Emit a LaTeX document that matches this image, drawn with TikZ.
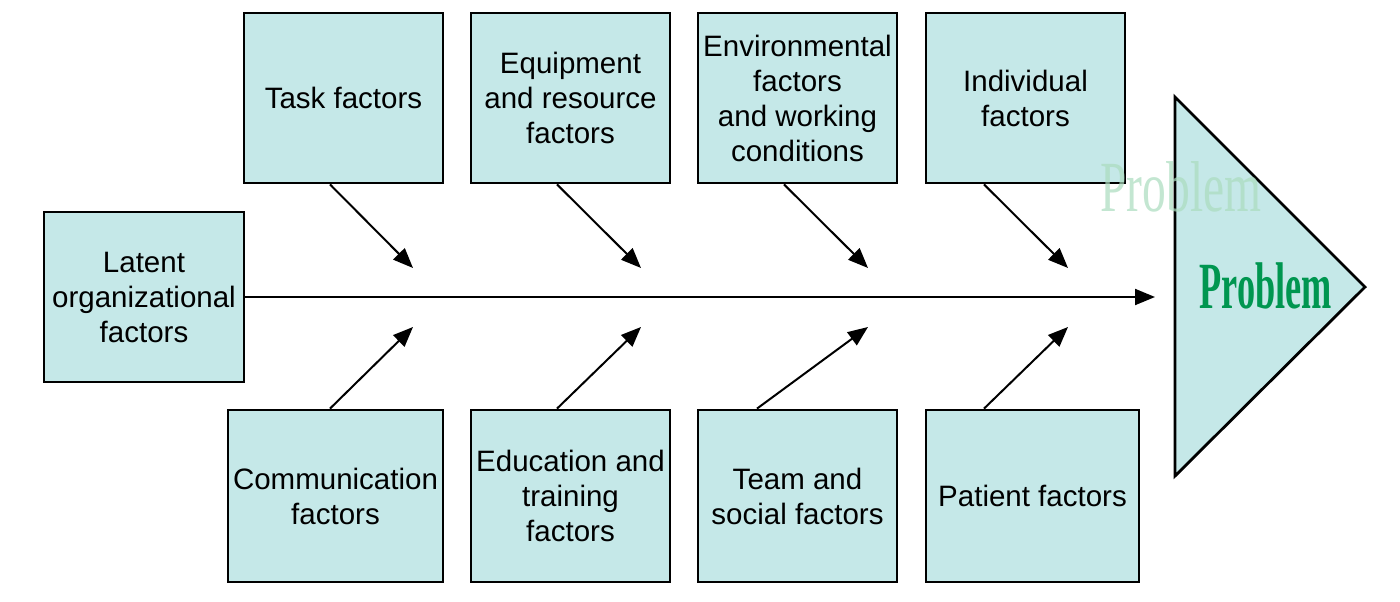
\documentclass[tikz,border=0pt]{standalone}
\usepackage{fontspec}
\setmainfont{Liberation Sans}
\newfontfamily\probfont{Liberation Serif}
\usetikzlibrary{arrows.meta}
\definecolor{boxfill}{RGB}{197,232,232}
\definecolor{probgreen}{RGB}{0,150,80}
\definecolor{fadegreen}{RGB}{170,220,190}
\tikzset{
  factor/.style={draw=black, line width=2.8pt, fill=boxfill, rectangle, inner sep=0pt, align=center,
    font=\fontsize{29.5}{35}\selectfont},
  cause/.style={line width=2pt, -{Triangle[length=20pt,width=16pt]}},
}
\begin{document}
\begin{tikzpicture}[x=1pt,y=-1pt]
\useasboundingbox (0,0) rectangle (1400,602);
% top row
\node[factor, minimum width=199pt, minimum height=170pt] (task) at (343.5,98) {Task factors};
\node[factor, minimum width=199pt, minimum height=170pt] (equip) at (570.5,98) {Equipment\\and resource\\factors};
\node[factor, minimum width=199pt, minimum height=170pt] (env) at (797.5,98) {Environmental\\factors\\and working\\conditions};
\node[factor, minimum width=199pt, minimum height=170pt] (indiv) at (1025.5,98) {Individual\\factors};
% left
\node[factor, minimum width=200pt, minimum height=170pt] (latent) at (144,297) {Latent\\organizational\\factors};
% bottom row
\node[factor, minimum width=215pt, minimum height=172pt] (comm) at (335.5,496) {Communication\\factors};
\node[factor, minimum width=199pt, minimum height=172pt] (edu) at (570.5,496) {Education and\\training\\factors};
\node[factor, minimum width=199pt, minimum height=172pt] (team) at (797.5,496) {Team and\\social factors};
\node[factor, minimum width=213pt, minimum height=172pt] (patient) at (1032.5,496) {Patient factors};
% problem head
\coordinate (pa) at (1175,97);
\coordinate (pb) at (1365,287);
\coordinate (pc) at (1175,476);
\draw[line width=2.8pt, fill=boxfill, line join=miter] (pa) -- (pb) -- (pc) -- cycle;
\node[text=probgreen, font=\probfont\bfseries\fontsize{66}{66}\selectfont, xscale=0.55, inner sep=0pt] (prob) at (1266,286) {Problem};
\node[text=fadegreen, opacity=0.7, font=\probfont\fontsize{72}{72}\selectfont, xscale=0.66, inner sep=0pt] (probfade) at (1181,187) {Problem};
% spine
\coordinate (spineend) at (1155,297);
\draw[cause] (latent.east) -- (spineend);
% diagonal causes
\coordinate (t1) at (413,268); \coordinate (t2) at (641,268); \coordinate (t3) at (868,268); \coordinate (t4) at (1068,268);
\coordinate (b1) at (413,327); \coordinate (b2) at (641,327); \coordinate (b3) at (868,327); \coordinate (b4) at (1068,327);
\draw[cause] ([xshift=-13.5pt]task.south) -- (t1);
\draw[cause] ([xshift=-13.5pt]equip.south) -- (t2);
\draw[cause] ([xshift=-13.5pt]env.south) -- (t3);
\draw[cause] ([xshift=-41.5pt]indiv.south) -- (t4);
\draw[cause] ([xshift=-5.5pt]comm.north) -- (b1);
\draw[cause] ([xshift=-13.5pt]edu.north) -- (b2);
\draw[cause] ([xshift=-40.5pt]team.north) -- (b3);
\draw[cause] ([xshift=-48.5pt]patient.north) -- (b4);
\end{tikzpicture}
\end{document}
